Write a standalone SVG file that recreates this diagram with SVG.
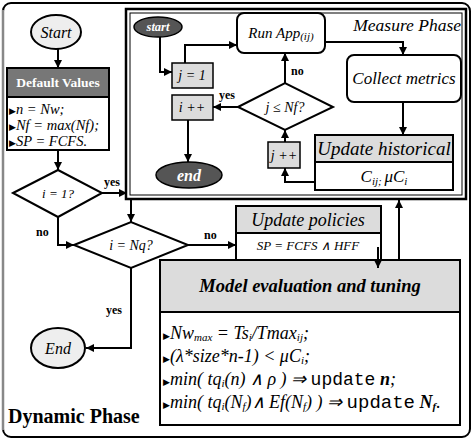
<svg xmlns="http://www.w3.org/2000/svg" width="474" height="441" viewBox="0 0 474 441">
<defs>
<marker id="ah" viewBox="0 0 10 10" refX="10" refY="5" markerWidth="8" markerHeight="8" markerUnits="userSpaceOnUse" orient="auto">
<path d="M0,0 L10,5 L0,10 z" fill="#000"/>
</marker>
</defs>
<style>
.it{font-family:"Liberation Serif",serif;font-style:italic;fill:#000}
.bd{font-family:"Liberation Serif",serif;font-weight:bold;fill:#000}
.lbl{font-family:"Liberation Serif",serif;font-weight:bold;font-size:12px;fill:#000}
.mono{font-family:"Liberation Mono",monospace;font-style:normal}
.bul{font-family:"DejaVu Sans",sans-serif;font-style:normal;font-size:9px}
.box{stroke:#000;stroke-width:2}
.gbox{fill:#dcdcdc;stroke:#000;stroke-width:1.5}
.conn path{fill:none;stroke:#000;stroke-width:2;marker-end:url(#ah)}
</style>
<rect width="474" height="441" fill="#fff"/>
<g id="frame">
<rect x="3" y="3" width="467" height="434" rx="8" fill="none" stroke="#000" stroke-width="2"/>
<line x1="3" y1="10" x2="3" y2="430" stroke="#888" stroke-width="2.5"/>
</g>
<g id="measure-phase">
<rect x="126" y="9" width="340" height="190" fill="#fff" stroke="#000" stroke-width="2.5"/>
<rect x="130" y="13" width="332" height="182" fill="none" stroke="#000" stroke-width="1"/>
<text class="it" x="461" y="31" font-size="17.5" text-anchor="end">Measure Phase</text>
</g>
<g id="start">
<ellipse cx="56" cy="32" rx="25" ry="17" fill="#eee" stroke="#000" stroke-width="2"/>
<text class="it" x="56" y="38" font-size="16" text-anchor="middle">Start</text>
</g>
<g id="default-values">
<rect x="7" y="68" width="102" height="82" fill="#fff" class="box"/>
<rect x="7" y="68" width="102" height="29" fill="#777" class="box"/>
<text class="bd" x="58" y="87" font-size="13.5" style="fill:#fff" text-anchor="middle">Default Values</text>
<text class="it" x="9" y="114" font-size="14.5"><tspan class="bul">▶</tspan>n = Nw;</text>
<text class="it" x="9" y="130" font-size="14.5"><tspan class="bul">▶</tspan>Nf = max(Nf);</text>
<text class="it" x="9" y="146" font-size="14.5"><tspan class="bul">▶</tspan>SP = FCFS.</text>
</g>
<g id="i-eq-1">
<polygon points="13,193 58,170 102,193 58,217" fill="#fff" stroke="#000" stroke-width="2"/>
<text class="it" x="58" y="198" font-size="13" text-anchor="middle">i = 1?</text>
</g>
<g id="i-eq-nq">
<polygon points="74,245 131,222 188,245 131,268" fill="#fff" stroke="#000" stroke-width="2"/>
<text class="it" x="131" y="250" font-size="14" text-anchor="middle">i = Nq?</text>
</g>
<g id="end">
<ellipse cx="58" cy="348" rx="27" ry="20" fill="#eee" stroke="#000" stroke-width="2"/>
<text class="it" x="58" y="354" font-size="16" text-anchor="middle">End</text>
</g>
<g id="update-policies">
<rect x="236" y="206" width="145" height="56" fill="#fff" class="box"/>
<rect x="236" y="206" width="145" height="27" fill="#dcdcdc" class="box"/>
<text class="it" x="308" y="226" font-size="18" text-anchor="middle">Update policies</text>
<text class="it" x="308" y="250" font-size="13" text-anchor="middle">SP = FCFS ∧ HFF</text>
</g>
<g id="model">
<rect x="160" y="260" width="300" height="165" fill="#fff" class="box"/>
<rect x="160" y="260" width="300" height="52" fill="#dcdcdc" class="box"/>
<text class="it" x="310" y="292" font-size="18.5" font-weight="bold" text-anchor="middle">Model evaluation and tuning</text>
<text class="it" x="163" y="339" font-size="18"><tspan class="bul">▶</tspan>Nw<tspan font-size="11" dy="2">max</tspan><tspan dy="-2"> = Ts</tspan><tspan font-size="11" dy="2">i</tspan><tspan dy="-2">/Tmax</tspan><tspan font-size="11" dy="2">ij</tspan><tspan dy="-2">;</tspan></text>
<text class="it" x="163" y="362" font-size="18"><tspan class="bul">▶</tspan>(λ*size*n-1) &lt; μC<tspan font-size="11" dy="2">i</tspan><tspan dy="-2">;</tspan></text>
<text class="it" x="163" y="385" font-size="18"><tspan class="bul">▶</tspan>min( tq<tspan font-size="11" dy="2">i</tspan><tspan dy="-2">(n) ∧ ρ ) ⇒ </tspan><tspan class="mono">update</tspan><tspan font-weight="bold"> n</tspan>;</text>
<text class="it" x="163" y="408" font-size="18"><tspan class="bul">▶</tspan>min( tq<tspan font-size="11" dy="2">i</tspan><tspan dy="-2">(N</tspan><tspan font-size="11" dy="2">f</tspan><tspan dy="-2">)∧ Ef(N</tspan><tspan font-size="11" dy="2">f</tspan><tspan dy="-2">) ) ⇒ </tspan><tspan class="mono" font-size="19">update</tspan><tspan font-weight="bold"> N</tspan><tspan font-size="11" font-weight="bold" dy="2">f</tspan><tspan dy="-2">.</tspan></text>
</g>
<g id="m-start">
<ellipse cx="158" cy="27" rx="24" ry="10" fill="#555" stroke="#000" stroke-width="1.5"/>
<text class="it" x="158" y="31" font-size="12.5" font-weight="bold" style="fill:#fff" text-anchor="middle">start</text>
</g>
<g id="j-eq-1">
<rect x="172" y="63" width="41" height="25" class="gbox"/>
<text class="it" x="192" y="80" font-size="14" text-anchor="middle">j = 1</text>
</g>
<g id="run-app">
<rect x="237" y="13" width="88" height="40" rx="7" fill="#fff" stroke="#000" stroke-width="2"/>
<text class="it" x="281" y="38" font-size="15" text-anchor="middle">Run App<tspan font-size="11" dy="2">(ij)</tspan></text>
</g>
<g id="collect">
<rect x="347" y="55" width="114" height="47" rx="7" fill="#fff" stroke="#000" stroke-width="2"/>
<text class="it" x="404" y="84" font-size="17" text-anchor="middle">Collect metrics</text>
</g>
<g id="historical">
<rect x="315" y="135" width="138" height="55" fill="#fff" class="box"/>
<rect x="315" y="135" width="138" height="27" fill="#dcdcdc" class="box"/>
<text class="it" x="384" y="155" font-size="19" text-anchor="middle">Update historical</text>
<text class="it" x="384" y="182" font-size="17" text-anchor="middle">C<tspan font-size="11" dy="3">ij; </tspan><tspan dy="-3">μC</tspan><tspan font-size="11" dy="3">i</tspan></text>
</g>
<g id="j-pp">
<rect x="268" y="142" width="32" height="26" class="gbox"/>
<text class="it" x="284" y="160" font-size="14" text-anchor="middle">j ++</text>
</g>
<g id="j-le-nf">
<polygon points="238,107 285,83 333,107 285,130" fill="#fff" stroke="#000" stroke-width="2"/>
<text class="it" x="285" y="112" font-size="14" text-anchor="middle">j ≤ Nf?</text>
</g>
<g id="i-pp">
<rect x="172" y="95" width="41" height="25" class="gbox"/>
<text class="it" x="192" y="112" font-size="14" text-anchor="middle">i ++</text>
</g>
<g id="m-end">
<ellipse cx="189" cy="175" rx="33" ry="13" fill="#555" stroke="#000" stroke-width="1.5"/>
<text class="it" x="189" y="181" font-size="16" font-weight="bold" style="fill:#fff" text-anchor="middle">end</text>
</g>
<g class="conn" id="connectors">
<path d="M58,49 V68"/>
<path d="M58,150 V170"/>
<path d="M102,193 H127"/>
<path d="M131,199 V222"/>
<path d="M58,217 V245 H74"/>
<path d="M188,245 H236"/>
<path d="M131,268 V348 H86"/>
<path d="M378,247 V268"/>
<path d="M399,260 V200"/>
<path d="M160,37 V72 H172"/>
<path d="M185,63 V45 H237"/>
<path d="M325,42 H403 V55"/>
<path d="M403,102 V135"/>
<path d="M315,182 H285 V168"/>
<path d="M285,142 V130"/>
<path d="M285,83 V53"/>
<path d="M238,107 H213"/>
<path d="M188,120 V162"/>
</g>
<g id="labels">
<text class="lbl" x="104" y="186">yes</text>
<text class="lbl" x="36" y="236">no</text>
<text class="lbl" x="204" y="239">no</text>
<text class="lbl" x="106" y="314">yes</text>
<text class="lbl" x="291" y="75">no</text>
<text class="lbl" x="219" y="99">yes</text>
<text class="bd" x="8" y="423" font-size="20">Dynamic Phase</text>
</g>
</svg>
